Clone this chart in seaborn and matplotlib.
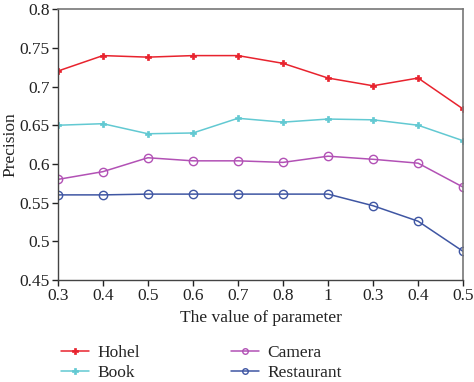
import matplotlib
matplotlib.use("Agg")
import matplotlib.pyplot as plt
import seaborn as sns
import pandas as pd
import numpy as np

x_labels = ["0.3", "0.4", "0.5", "0.6", "0.7", "0.8", "1", "0.3", "0.4", "0.5"]
hohel = [0.720, 0.740, 0.738, 0.740, 0.740, 0.730, 0.711, 0.701, 0.711, 0.671]
book = [0.650, 0.652, 0.639, 0.640, 0.659, 0.654, 0.658, 0.657, 0.650, 0.630]
camera = [0.580, 0.590, 0.608, 0.604, 0.604, 0.602, 0.610, 0.606, 0.601, 0.570]
restaurant = [0.560, 0.560, 0.561, 0.561, 0.561, 0.561, 0.561, 0.546, 0.526, 0.487]
series_names = ["Hohel", "Book", "Camera", "Restaurant"]

sns.set_theme(style="white")
plt.rcParams['font.family'] = ['Liberation Serif', 'DejaVu Serif']

rows = []
for name, vals in zip(series_names, [hohel, book, camera, restaurant]):
    for i, v in enumerate(vals):
        rows.append({"pos": i, "value": v, "series": name})
df = pd.DataFrame(rows)

fig = plt.figure(figsize=(4.74, 3.82), dpi=100)
ax = fig.add_axes([0.122, 0.267, 0.855, 0.709])

palette = {"Hohel": "#e8232e", "Book": "#62c9d2", "Camera": "#b251b5", "Restaurant": "#3f56a3"}
styles = {
    "Hohel": dict(marker="P", ms=5, mfc="#e8232e", mec="#e8232e", mew=0.5),
    "Book": dict(marker="P", ms=5, mfc="#62c9d2", mec="#62c9d2", mew=0.5),
    "Camera": dict(marker="o", ms=6, mfc="none", mec="#b251b5", mew=1.0),
    "Restaurant": dict(marker="o", ms=6, mfc="none", mec="#3f56a3", mew=1.0),
}
for name in series_names:
    sub = df[df["series"] == name]
    sns.lineplot(data=sub, x="pos", y="value", ax=ax, color=palette[name],
                 lw=1.1, label=name, **styles[name])

ax.set_xlim(0, 9)
ax.set_ylim(0.45, 0.8)
ax.set_xticks(range(10))
ax.set_xticklabels(x_labels)
ax.set_yticks([0.45, 0.5, 0.55, 0.6, 0.65, 0.7, 0.75, 0.8])
ax.set_yticklabels(["0.45", "0.5", "0.55", "0.6", "0.65", "0.7", "0.75", "0.8"])
ax.tick_params(axis="both", labelsize=12.5, colors="#222222", length=4, width=1,
               direction="out", bottom=True, left=True, pad=2)
ax.set_xlabel("The value of parameter", fontsize=12.5, color="#222222")
ax.set_ylabel("Precision", fontsize=12.5, color="#222222")
ax.yaxis.set_label_coords(-0.098, 0.5)
for s in ["top", "right"]:
    ax.spines[s].set_color("#777777")
    ax.spines[s].set_linewidth(1.2)
for s in ["left", "bottom"]:
    ax.spines[s].set_color("#444444")
    ax.spines[s].set_linewidth(1.0)

handles, labels = ax.get_legend_handles_labels()
leg = fig.legend(handles, labels,
                 loc="upper left", bbox_to_anchor=(0.115, 0.115), ncol=2,
                 frameon=False, fontsize=12.5, handlelength=1.6, handletextpad=0.5,
                 columnspacing=5.2, labelspacing=0.2, borderaxespad=0)
if ax.get_legend():
    ax.get_legend().remove()
for h in leg.legend_handles:
    h.set_markersize(4)

fig.savefig("out.png", dpi=100)
